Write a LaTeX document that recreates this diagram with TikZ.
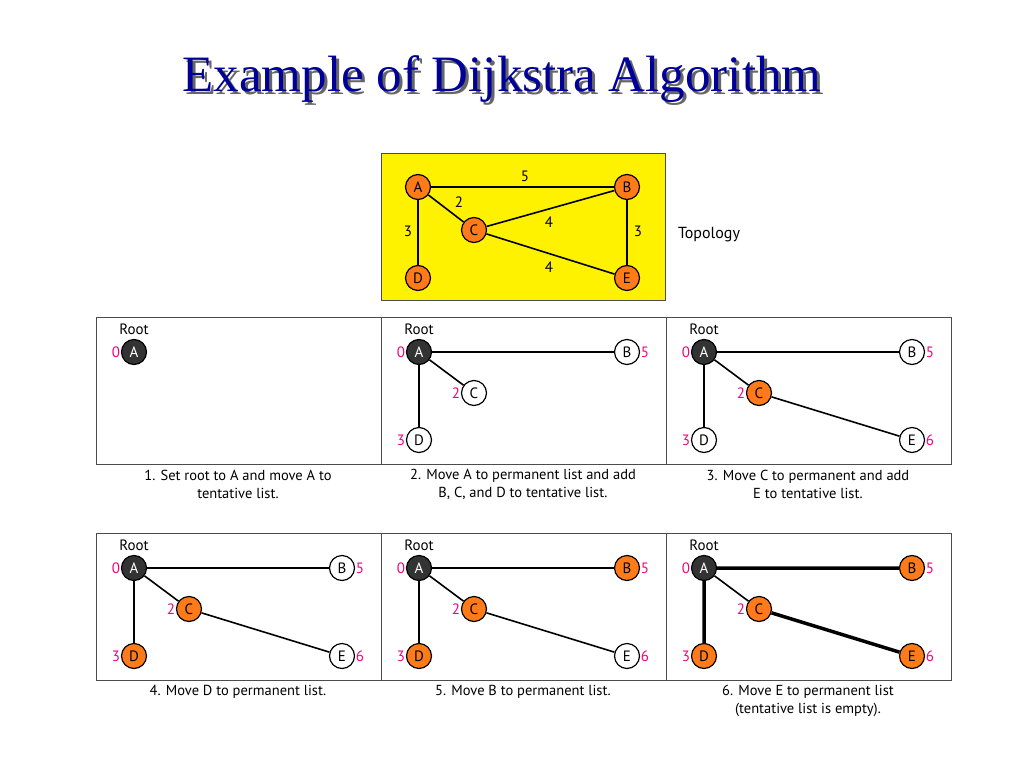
\documentclass[tikz,border=0pt]{standalone}
\usepackage{fontspec}
\setmainfont{PT Sans}
\newfontfamily\titlefont{Liberation Serif}
\begin{document}
\begin{tikzpicture}[x=1pt,y=-1pt,
 nd/.style={circle,draw=black,line width=1.2pt,minimum size=25pt,inner sep=0pt,font=\fontsize{15}{15}\selectfont},
 org/.style={nd,fill=orange!85!red!90},
 wht/.style={nd,fill=white},
 blk/.style={nd,fill=black!80,text=white},
 ed/.style={line width=1.6pt},
 thk/.style={line width=3.5pt},
 wt/.style={font=\fontsize{15}{15}\selectfont},
 num/.style={text=magenta!80!red,font=\fontsize{15}{15}\selectfont},
 rt/.style={font=\fontsize{15}{15}\selectfont},
 captxt/.style={font=\fontsize{14.5}{18}\selectfont,align=center},
 box/.style={draw=black!70,line width=1pt}]
\useasboundingbox (0,0) rectangle (1024,768);
% title
\node[text=black!60,font=\titlefont\fontsize{51}{51}\selectfont] at (505,82) {Example of Dijkstra Algorithm};
\node[text=blue!60!black,font=\titlefont\fontsize{51}{51}\selectfont] (title) at (502,79) {Example of Dijkstra Algorithm};
% topology
\fill[yellow] (381,153) rectangle (665,300);
\draw[box] (381,153) rectangle (665,300);
\node[org] (tA) at (418,187) {A};
\node[org] (tB) at (627,187) {B};
\node[org] (tC) at (474,230) {C};
\node[org] (tD) at (418,278) {D};
\node[org] (tE) at (627,278) {E};
\draw[ed] (tA)--(tB) (tA)--(tC) (tA)--(tD) (tC)--(tB) (tC)--(tE) (tB)--(tE);
\node[wt] at (525,176) {5};
\node[wt] at (459,202) {2};
\node[wt] at (549,222) {4};
\node[wt] at (408,231) {3};
\node[wt] at (638,231) {3};
\node[wt] at (549,267) {4};
\node[font=\fontsize{16}{16}\selectfont] (topo) at (709,235) {Topology};
% panels
\foreach \px/\py in {96/317,381/317,666/317,96/533,381/533,666/533}
  \draw[box] (\px,\py) rectangle ++(285,147);
% panel 1
\begin{scope}[shift={(96,317)},name prefix=p1-]
\node[rt] at (38,12) {Root};
\node[blk] (A) at (38,35) {A}; \node[num] at (20,35) {0};
\end{scope}
% panel 2
\begin{scope}[shift={(381,317)},name prefix=p2-]
\node[rt] (r) at (38,12) {Root};
\node[blk] (A) at (38,35) {A}; \node[num] at (20,35) {0};
\node[wht] (B) at (246,35) {B}; \node[num] at (264,35) {5};
\node[wht] (C) at (93,76) {C}; \node[num] at (75,76) {2};
\node[wht] (D) at (38,123) {D}; \node[num] at (20,123) {3};
\draw[ed] (A)--(B) (A)--(C) (A)--(D);
\end{scope}
% panel 3
\begin{scope}[shift={(666,317)},name prefix=p3-]
\node[rt] (r) at (38,12) {Root};
\node[blk] (A) at (38,35) {A}; \node[num] at (20,35) {0};
\node[wht] (B) at (246,35) {B}; \node[num] at (264,35) {5};
\node[org] (C) at (93,76) {C}; \node[num] at (75,76) {2};
\node[wht] (D) at (38,123) {D}; \node[num] at (20,123) {3};
\node[wht] (E) at (246,123) {E}; \node[num] at (264,123) {6};
\draw[ed] (A)--(B) (A)--(C) (A)--(D) (C)--(E);
\end{scope}
% panel 4
\begin{scope}[shift={(96,533)},name prefix=p4-]
\node[rt] (r) at (38,12) {Root};
\node[blk] (A) at (38,35) {A}; \node[num] at (20,35) {0};
\node[wht] (B) at (246,35) {B}; \node[num] at (264,35) {5};
\node[org] (C) at (93,76) {C}; \node[num] at (75,76) {2};
\node[org] (D) at (38,123) {D}; \node[num] at (20,123) {3};
\node[wht] (E) at (246,123) {E}; \node[num] at (264,123) {6};
\draw[ed] (A)--(B) (A)--(C) (A)--(D) (C)--(E);
\end{scope}
% panel 5
\begin{scope}[shift={(381,533)},name prefix=p5-]
\node[rt] (r) at (38,12) {Root};
\node[blk] (A) at (38,35) {A}; \node[num] at (20,35) {0};
\node[org] (B) at (246,35) {B}; \node[num] at (264,35) {5};
\node[org] (C) at (93,76) {C}; \node[num] at (75,76) {2};
\node[org] (D) at (38,123) {D}; \node[num] at (20,123) {3};
\node[wht] (E) at (246,123) {E}; \node[num] at (264,123) {6};
\draw[ed] (A)--(B) (A)--(C) (A)--(D) (C)--(E);
\end{scope}
% panel 6
\begin{scope}[shift={(666,533)},name prefix=p6-]
\node[rt] (r) at (38,12) {Root};
\node[blk] (A) at (38,35) {A}; \node[num] at (20,35) {0};
\node[org] (B) at (246,35) {B}; \node[num] at (264,35) {5};
\node[org] (C) at (93,76) {C}; \node[num] at (75,76) {2};
\node[org] (D) at (38,123) {D}; \node[num] at (20,123) {3};
\node[org] (E) at (246,123) {E}; \node[num] at (264,123) {6};
\draw[ed] (A)--(C);
\draw[thk] (A)--(B) (A)--(D) (C)--(E);
\end{scope}
% captions
\node[captxt] (c1) at (238,484) {1. Set root to A and move A to\\tentative list.};
\node[captxt] (c2) at (523,484) {2. Move A to permanent list and add\\B, C, and D to tentative list.};
\node[captxt] (c3) at (808,484) {3. Move C to permanent and add\\E to tentative list.};
\node[captxt] (c4) at (238,692) {4. Move D to permanent list.};
\node[captxt] (c5) at (523,692) {5. Move B to permanent list.};
\node[captxt] (c6) at (808,701) {6. Move E to permanent list\\(tentative list is empty).};
\end{tikzpicture}
\end{document}
